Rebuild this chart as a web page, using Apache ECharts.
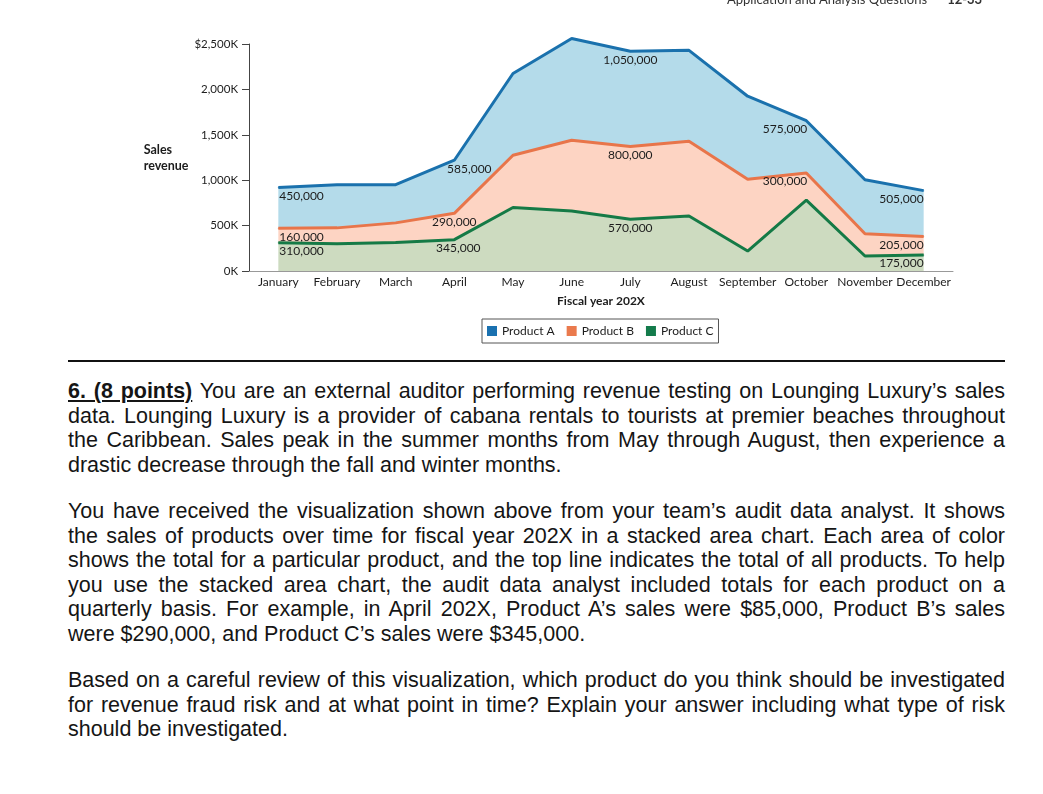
<!DOCTYPE html>
<html>
<head>
<meta charset="utf-8">
<title>Sales revenue by product</title>
<script src="https://cdn.jsdelivr.net/npm/echarts@6/dist/echarts.min.js"></script>
<style>
  html, body { margin: 0; padding: 0; background: #fff; }
  body { width: 1043px; height: 794px; position: relative; overflow: hidden; }
  #chart { position: absolute; left: 0; top: 0; width: 1043px; height: 355px; }
  .runhead { position: absolute; z-index: 2; top: -7px; left: 727px; font-family: Lato, "Noto Sans", sans-serif; font-size: 13px; line-height: 13px; color: #333; white-space: nowrap; }
  .runhead b { margin-left: 20px; }
  .rule { position: absolute; left: 68px; top: 360px; width: 937px; height: 2px; background: #111; }
  .question { position: absolute; left: 68px; top: 379px; width: 937px; font-family: "Liberation Sans Narrow", "Liberation Sans", Arial, sans-serif; font-size: 21.5px; line-height: 24.5px; color: #151515; }
  .question p { margin: 0 0 22px 0; }
  .question .l { display: block; text-align: justify; text-align-last: justify; }
  .question .e { display: block; }
</style>
</head>
<body>
<div class="runhead">Application and Analysis Questions<b>12-33</b></div>
<div id="chart"></div>
<div class="rule"></div>
<div class="question">
  <p>
    <span class="l"><b><u>6. (8 points)</u></b> You are an external auditor performing revenue testing on Lounging Luxury’s sales</span>
    <span class="l">data. Lounging Luxury is a provider of cabana rentals to tourists at premier beaches throughout</span>
    <span class="l">the Caribbean. Sales peak in the summer months from May through August, then experience a</span>
    <span class="e">drastic decrease through the fall and winter months.</span>
  </p>
  <p>
    <span class="l">You have received the visualization shown above from your team’s audit data analyst. It shows</span>
    <span class="l">the sales of products over time for fiscal year 202X in a stacked area chart. Each area of color</span>
    <span class="l">shows the total for a particular product, and the top line indicates the total of all products. To help</span>
    <span class="l">you use the stacked area chart, the audit data analyst included totals for each product on a</span>
    <span class="l">quarterly basis. For example, in April 202X, Product A’s sales were $85,000, Product B’s sales</span>
    <span class="e">were $290,000, and Product C’s sales were $345,000.</span>
  </p>
  <p>
    <span class="l">Based on a careful review of this visualization, which product do you think should be investigated</span>
    <span class="l">for revenue fraud risk and at what point in time? Explain your answer including what type of risk</span>
    <span class="e">should be investigated.</span>
  </p>
</div>
<script>
// monthly sales, thousands of dollars
const months = ['January', 'February', 'March', 'April', 'May', 'June', 'July',
  'August', 'September', 'October', 'November', 'December']
const productA = [450, 475, 420, 585, 900, 1120, 1050, 1000, 915, 575, 595, 505]
const productB = [160, 175, 215, 290, 575, 780, 800, 825, 790, 300, 245, 205]
const productC = [310, 300, 315, 345, 700, 660, 570, 605, 220, 780, 165, 175]

const yTicks = [0, 500, 1000, 1500, 2000, 2500]
const yTickLabels = ['0K', '500K', '1,000K', '1,500K', '2,000K', '$2,500K']

// months (index) that get a value label, per product
const labelMonthsA = [0, 3, 6, 9, 11]
const labelMonthsB = [0, 3, 6, 9, 11]
const labelMonthsC = [0, 3, 6, 11]

const font = 'Lato'
const textColor = '#1c1c1c'
const fontSize = 12

// where the label sits relative to its point
const labelPlace = {
  0: { align: 'left', offset: [1, 0] },
  3: { align: 'center', offset: [0, 0] },
  6: { align: 'center', offset: [0, 0] },
  9: { align: 'right', offset: [1, 0] },
  11: { align: 'right', offset: [0, 0] }
}

function withLabels (values, labelMonths, extraOffset) {
  return values.map((v, i) => {
    if (labelMonths.indexOf(i) < 0) return v
    const place = labelPlace[i]
    const extra = (extraOffset && extraOffset[i]) || [0, 0]
    return {
      value: v,
      label: {
        show: true,
        position: 'bottom',
        distance: 2,
        align: place.align,
        offset: [place.offset[0] + extra[0], place.offset[1] + extra[1]],
        fontFamily: font,
        fontSize: fontSize,
        color: textColor,
        formatter: p => (p.value * 1000).toLocaleString('en-US')
      }
    }
  })
}

function areaSeries (name, data, lineColor, fillColor, z) {
  return {
    name: name,
    type: 'line',
    stack: 'total',
    clip: false,
    z: z,
    symbol: 'circle',
    symbolSize: 1,
    showSymbol: true,
    itemStyle: { color: lineColor },
    lineStyle: { color: lineColor, width: 3 },
    areaStyle: { color: fillColor, opacity: 1 },
    emphasis: { disabled: true },
    data: data
  }
}

const chart = echarts.init(document.getElementById('chart'), null, { renderer: 'canvas' })

const option = {
  backgroundColor: '#fff',
  animation: false,
  grid: { left: 249, right: 90, top: 44, bottom: 84 },
  legend: {
    data: [
      { name: 'Product A', itemStyle: { color: '#1a71b0' } },
      { name: 'Product B', itemStyle: { color: '#ea7a4d' } },
      { name: 'Product C', itemStyle: { color: '#137b4b' } }
    ],
    left: 482,
    top: 319,
    icon: 'rect',
    itemWidth: 10,
    itemHeight: 10,
    itemGap: 12,
    padding: [6, 5],
    borderColor: '#555',
    borderWidth: 1,
    textStyle: { fontFamily: font, fontSize: 12, color: textColor }
  },
  xAxis: {
    type: 'category',
    data: months,
    boundaryGap: true,
    name: 'Fiscal year 202X',
    nameLocation: 'middle',
    nameGap: 24,
    nameTextStyle: { fontFamily: font, fontSize: fontSize, fontWeight: 'bold', color: textColor },
    axisLine: { lineStyle: { color: '#999', width: 1 } },
    axisTick: { show: false },
    axisLabel: { interval: 0, margin: 5, fontFamily: font, fontSize: fontSize, color: textColor }
  },
  yAxis: {
    type: 'value',
    min: 0,
    max: 2500,
    interval: 500,
    name: 'Sales\nrevenue',
    nameLocation: 'middle',
    nameRotate: 0,
    nameGap: 100,
    nameTextStyle: { fontFamily: font, fontSize: 12.5, fontWeight: 'bold', color: textColor, align: 'left', lineHeight: 16 },
    axisLine: { show: true, lineStyle: { color: '#444' } },
    axisTick: { show: true, length: 7, lineStyle: { color: '#444' } },
    axisLabel: {
      margin: 11,
      fontFamily: font,
      fontSize: 11.5,
      color: textColor,
      formatter: v => yTickLabels[yTicks.indexOf(v)]
    },
    splitLine: { show: false }
  },
  series: [
    areaSeries('Product C', withLabels(productC, labelMonthsC, { 3: [4, 0] }), '#157a46', '#cddbc0', 4),
    areaSeries('Product B', withLabels(productB, labelMonthsB), '#e8754a', '#fdd4c3', 3),
    areaSeries('Product A', withLabels(productA, labelMonthsA, { 3: [15, 0] }), '#1a71ad', '#b4dbea', 2)
  ]
}

chart.setOption(option)
</script>
</body>
</html>
